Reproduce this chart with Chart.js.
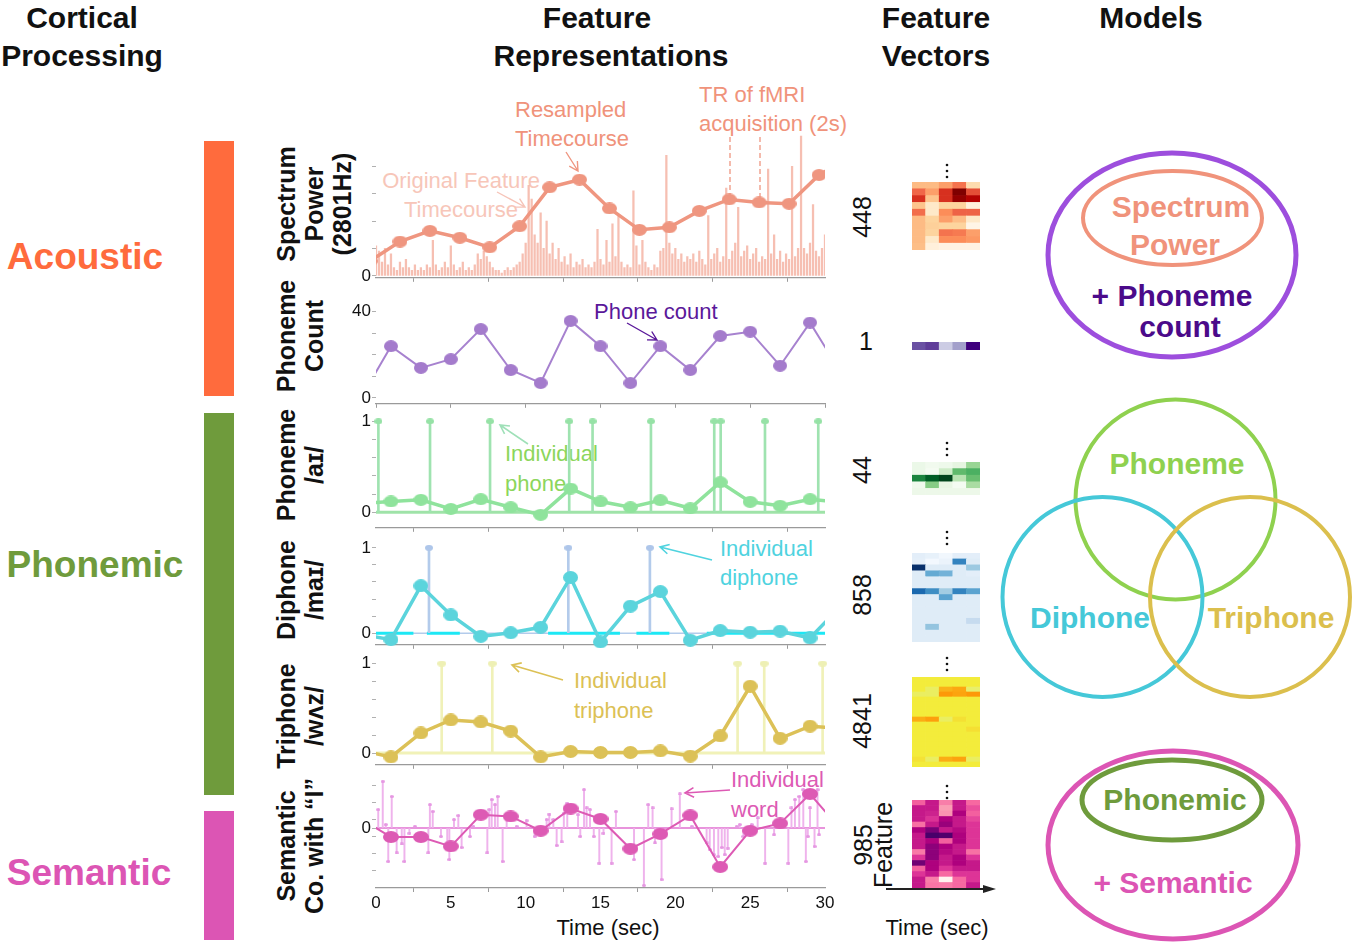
<!DOCTYPE html>
<html><head><meta charset="utf-8"><title>Cortical processing feature models</title>
<script src="https://cdn.jsdelivr.net/npm/chart.js@4.4.1/dist/chart.umd.min.js"></script>
<style>
html,body{margin:0;padding:0;background:#fff;}
body{width:1353px;height:944px;position:relative;overflow:hidden;font-family:"Liberation Sans","DejaVu Sans",Arial,sans-serif;color:#111;}
.t{position:absolute;white-space:nowrap;transform:translate(-50%,-50%);line-height:1;text-align:center;}
.r{position:absolute;white-space:nowrap;transform:translate(-50%,-50%) rotate(-90deg);text-align:center;}
.b{font-weight:bold;}
.cb{position:absolute;left:204px;width:30px;}
canvas{position:absolute;}
svg{position:absolute;left:0;top:0;}
.ann{position:absolute;white-space:nowrap;font-size:22px;line-height:29px;}
</style></head><body>

<!-- column headers -->
<div class="t b" style="left:82px;top:18px;font-size:30px">Cortical</div>
<div class="t b" style="left:82px;top:56px;font-size:30px">Processing</div>
<div class="t b" style="left:597px;top:18px;font-size:30px">Feature</div>
<div class="t b" style="left:611px;top:56px;font-size:30px">Representations</div>
<div class="t b" style="left:936px;top:18px;font-size:30px">Feature</div>
<div class="t b" style="left:936px;top:56px;font-size:30px">Vectors</div>
<div class="t b" style="left:1151px;top:18px;font-size:30px">Models</div>

<!-- cortical processing -->
<div class="t b" style="left:85px;top:256px;font-size:37px;color:#ff6b3d">Acoustic</div>
<div class="t b" style="left:95px;top:564px;font-size:37px;color:#6f9b3c">Phonemic</div>
<div class="t b" style="left:89px;top:872px;font-size:37px;color:#dc55b4">Semantic</div>
<div class="cb" style="top:141px;height:255px;background:#ff6b3d"></div>
<div class="cb" style="top:413px;height:382px;background:#6f9b3c"></div>
<div class="cb" style="top:811px;height:129px;background:#dc55b4"></div>

<!-- row labels -->
<div class="r b" style="left:314px;top:204px;font-size:25px;line-height:28px">Spectrum<br>Power<br>(2801Hz)</div>
<div class="r b" style="left:300px;top:336px;font-size:25px;line-height:28px">Phoneme<br>Count</div>
<div class="r b" style="left:300px;top:465px;font-size:25px;line-height:28px">Phoneme<br>/aɪ/</div>
<div class="r b" style="left:300px;top:590px;font-size:25px;line-height:28px">Diphone<br>/maɪ/</div>
<div class="r b" style="left:300px;top:716px;font-size:25px;line-height:28px">Triphone<br>/wʌz/</div>
<div class="r b" style="left:300px;top:846px;font-size:25px;line-height:28px">Semantic<br>Co. with “I”</div>

<!-- annotations in plots -->
<div class="ann" style="left:515px;top:95px;color:#f0937b">Resampled<br>Timecourse</div>
<div class="ann" style="left:699px;top:80px;color:#f0937b">TR of fMRI<br>acquisition (2s)</div>
<div class="ann" style="left:461px;top:166px;transform:translateX(-50%);text-align:center;color:#f7c6b9">Original Feature<br>Timecourse</div>
<div class="ann" style="left:594px;top:297px;color:#5a189a">Phone count</div>
<div class="ann" style="left:505px;top:439px;line-height:30px;color:#8cd65c">Individual<br>phone</div>
<div class="ann" style="left:720px;top:534px;color:#4fd3df">Individual<br>diphone</div>
<div class="ann" style="left:574px;top:666px;line-height:30px;color:#dcc155">Individual<br>triphone</div>
<div class="ann" style="left:731px;top:765px;line-height:30px;color:#dd5ab4">Individual<br>word</div>
<div class="t" style="left:608px;top:928px;font-size:22px">Time (sec)</div>

<!-- feature vector labels -->
<div class="r" style="left:862px;top:217px;font-size:25px">448</div>
<div class="t" style="left:866px;top:341px;font-size:25px">1</div>
<div class="r" style="left:862px;top:470px;font-size:25px">44</div>
<div class="r" style="left:862px;top:595px;font-size:25px">858</div>
<div class="r" style="left:862px;top:721px;font-size:25px">4841</div>
<div class="r" style="left:873px;top:845px;font-size:25px;line-height:20px">985<br>Feature</div>
<div class="t" style="left:937px;top:928px;font-size:22px">Time (sec)</div>

<!-- model texts -->
<div class="t b" style="left:1181px;top:207px;font-size:30px;color:#f0937b">Spectrum</div>
<div class="t b" style="left:1175px;top:245px;font-size:30px;color:#f0937b">Power</div>
<div class="t b" style="left:1172px;top:296px;font-size:30px;color:#4b0a8a">+ Phoneme</div>
<div class="t b" style="left:1180px;top:327px;font-size:30px;color:#4b0a8a">count</div>
<div class="t b" style="left:1177px;top:464px;font-size:30px;color:#8fd14f">Phoneme</div>
<div class="t b" style="left:1090px;top:618px;font-size:30px;color:#45c8d8">Diphone</div>
<div class="t b" style="left:1271px;top:618px;font-size:30px;color:#dbbf4d">Triphone</div>
<div class="t b" style="left:1175px;top:800px;font-size:30px;color:#6e9b3c">Phonemic</div>
<div class="t b" style="left:1173px;top:883px;font-size:30px;color:#dc55b4">+ Semantic</div>

<script>
// ---------------- DATA ----------------
const timeTicks = [0, 5, 10, 15, 20, 25, 30];
// TR-resampled sample times (s); outer points continue the line past the axis edges
const specTimes = [-0.4, 1.6, 3.6, 5.6, 7.6, 9.6, 11.6, 13.6, 15.6, 17.6, 19.6, 21.6, 23.6, 25.6, 27.6, 29.6, 31.6];
const trTimes   = [-1, 1, 3, 5, 7, 9, 11, 13, 15, 17, 19, 21, 23, 25, 27, 29, 31];

// Spectrum power (2801 Hz)
const spectrumResampled = [0.54, 1.25, 1.64, 1.39, 1.04, 1.81, 3.23, 3.51, 2.46, 1.68, 1.77, 2.37, 2.79, 2.68, 2.63, 3.68, 4.3];
const spectrumStep = 0.2; // original feature sampled every 0.2 s
const spectrumOriginal = [
  1.1, 0.9, 0.5, 1.0, 0.4, 0.8, 0.3, 0.2, 0.5, 0.3, 0.6,
  0.3, 0.2, 0.4, 0.2, 0.3, 0.2, 0.4, 0.3, 1.3, 0.4,
  0.2, 0.3, 0.5, 0.3, 1.1, 0.4, 0.2, 0.3, 0.5, 0.2,
  0.3, 0.2, 0.4, 0.8, 0.6, 0.9, 0.7, 0.5, 0.3, 0.2,
  0.2, 0.1, 0.2, 0.3, 0.2, 0.3, 0.4, 0.5, 0.8, 1.2,
  3.3, 2.8, 1.5, 1.2, 2.3, 1.0, 2.0, 0.8, 1.2, 0.6,
  1.0, 0.5, 0.7, 0.4, 0.8, 0.3, 0.5, 0.4, 0.6, 0.3,
  0.4, 0.3, 0.5, 1.7, 0.6, 0.4, 1.3, 0.5, 1.9, 0.7,
  2.2, 0.5, 0.3, 0.4, 0.3, 3.1, 1.1, 0.4, 1.3, 0.5,
  0.3, 0.2, 0.4, 0.3, 0.9, 1.0, 4.4, 1.2, 0.8, 1.0,
  0.6, 0.8, 0.5, 0.7, 0.6, 0.8, 0.5, 0.9, 0.6, 0.4,
  2.2, 0.6, 0.8, 1.0, 0.5, 0.7, 3.2, 0.6, 0.9, 1.2,
  2.5, 0.7, 0.9, 1.1, 0.6, 0.8, 1.0, 0.5, 0.7, 0.6,
  3.9, 0.8, 1.5, 0.6, 0.9, 0.5, 0.8, 0.6, 4.0, 0.7,
  1.0, 5.1, 1.0, 0.8, 1.2, 2.6, 0.9, 0.7, 1.0, 1.5
];

// Phoneme count
const phoneCount = [0, 23.9, 13.9, 17.9, 31.8, 12.9, 6.9, 35.6, 23.9, 6.9, 23.9, 12.9, 28.6, 30.6, 14.9, 34.8, 12.4];

// Phoneme /aɪ/
const phonemeResampled = [0.096, 0.118, 0.136, 0.036, 0.143, 0.054, -0.029, 0.26, 0.118, 0.054, 0.132, 0.043, 0.33, 0.114, 0.071, 0.143, 0.107];
const phoneOnsets = [0.16, 3.61, 7.62, 12.91, 14.47, 18.37, 22.6, 23.03, 25.99, 29.55];

// Diphone /maɪ/
const diphoneResampled = [-0.016, -0.076, 0.555, 0.213, -0.038, 0.004, 0.068, 0.653, -0.103, 0.316, 0.487, -0.083, 0.03, 0.011, 0.023, -0.057, 0.307];
const diphoneOnsets = [3.54, 12.85, 18.3];
const diphoneZeroRuns = [[0, 2.5], [3.4, 5.6], [11.5, 16.3], [17.4, 19.6], [22.1, 30]];

// Triphone /wʌz/
const triphoneResampled = [0.029, -0.043, 0.225, 0.37, 0.348, 0.246, -0.043, 0.018, 0.007, 0.007, 0.025, -0.033, 0.192, 0.747, 0.166, 0.301, 0.279];
const triphoneOnsets = [4.39, 7.77, 24.16, 25.94, 29.84];

// Semantic co-occurrence with "I"
const semanticResampled = [0.053, -0.053, -0.053, -0.108, 0.078, 0.068, -0.016, 0.114, 0.053, -0.122, -0.035, 0.074, -0.229, -0.016, 0.027, 0.2, -0.004];
const wordTimes = [0.15, 0.45, 0.65, 0.82, 1.05, 1.38, 1.72, 1.9, 2.23, 2.6, 3.5, 3.6, 3.79, 4.34, 4.76, 4.9, 5.21, 5.5, 5.72, 6.28,
  6.5, 7.44, 7.57, 7.73, 7.95, 8.13, 8.46, 8.73, 9.4, 10.06, 10.6, 11.4, 11.58, 11.85, 12.07, 12.4, 12.55, 12.78, 13.5, 13.65,
  13.9, 14.07, 14.3, 14.55, 14.92, 15.2, 15.74, 16.03, 17.24, 17.9, 18.19, 18.48, 18.64, 19.08, 19.75, 20.3, 21.1, 22.09, 22.3, 22.58,
  22.87, 23.1, 23.3, 23.5, 24.1, 24.3, 24.55, 24.75, 25.1, 25.5, 26.0, 26.6, 27.1, 27.55, 27.76, 27.99, 28.28, 28.55, 28.72, 28.85,
  29.0, 29.3, 29.5, 29.6];
const wordValues = [0.108, 0.275, 0.02, -0.196, 0.186, -0.147, -0.094, -0.196, -0.03, 0.01, -0.147, 0.137, 0.098, -0.049, -0.118, -0.186, 0.049, 0.073, -0.114, -0.049,
  0.01, -0.147, 0.108, 0.167, 0.137, 0.186, -0.196, 0.059, 0.01, 0.043, -0.049, 0.049, 0.082, 0.049, -0.102, -0.082, 0.088, 0.147, 0.078, -0.049,
  0.225, 0.118, 0.108, -0.049, -0.206, -0.03, -0.206, 0.098, -0.186, -0.337, 0.137, 0.118, -0.088, -0.304, 0.112, 0.2, 0.01, -0.088, -0.127, -0.157,
  -0.167, -0.114, -0.157, -0.118, 0.01, 0.02, -0.049, -0.03, 0.02, 0.059, -0.206, -0.04, 0.04, -0.206, 0.118, 0.167, 0.186, 0.225, -0.196, -0.049,
  0.118, -0.108, 0.225, -0.04];

// Feature-vector heatmaps (rows top→bottom, 5 TR columns), values 0..1
const heatCols = ['TR1', 'TR2', 'TR3', 'TR4', 'TR5'];
const spectrumVec = [
  [0.375, 0.375, 0.45, 0.58, 0.2],
  [0.62, 0.45, 0.75, 1.0, 0.68],
  [0.75, 0.33, 0.75, 0.95, 0.87],
  [0.33, 0.12, 0.25, 0.25, 0.06],
  [0.6, 0.12, 0.5, 0.63, 0.63],
  [0.375, 0.25, 0.45, 0.36, 0.12],
  [0.375, 0.27, 0.25, 0.25, 0.02],
  [0.375, 0.25, 0.58, 0.56, 0.45],
  [0.375, 0.12, 0.5, 0.5, 0.47],
  [0.36, 0.06, 0.03, 0.03, 0.03]
];
const phoneCountVec = [[0.75, 0.81, 0.31, 0.48, 1.0]];
const phonemeVec = [
  [0.08, 0.04, 0.06, 0.12, 0.4],
  [0.08, 0.02, 0.22, 0.55, 0.6],
  [0.78, 0.92, 1.0, 0.3, 0.53],
  [0.05, 0.45, 0.1, 0.02, 0.35],
  [0.07, 0.07, 0.07, 0.07, 0.07]
];
const diphoneVec = [
  [0.1, 0.08, 0.03, 0.1, 0.1],
  [0.09, 0.02, 0.06, 0.68, 0.12],
  [1.0, 0.12, 0.12, 0.12, 0.38],
  [0.12, 0.52, 0.48, 0.12, 0.1],
  [0.12, 0.12, 0.12, 0.12, 0.12],
  [0.12, 0.12, 0.12, 0.12, 0.12],
  [0.78, 0.64, 0.36, 0.68, 0.55],
  [0.12, 0.12, 0.55, 0.12, 0.12],
  [0.12, 0.12, 0.12, 0.12, 0.12],
  [0.12, 0.12, 0.12, 0.12, 0.12],
  [0.12, 0.12, 0.12, 0.12, 0.12],
  [0.12, 0.12, 0.12, 0.12, 0.25],
  [0.12, 0.4, 0.12, 0.12, 0.12],
  [0.12, 0.12, 0.12, 0.12, 0.12],
  [0.12, 0.12, 0.12, 0.12, 0.12]
];
const triphoneVec = [
  [0.5, 0.5, 0.5, 0.5, 0.5],
  [0.5, 0.5, 0.5, 0.5, 0.5],
  [0.5, 0.3, 0.8, 0.86, 0.25],
  [0.3, 0.3, 0.93, 0.88, 0.93],
  [0.5, 0.5, 0.5, 0.5, 0.5],
  [0.5, 0.5, 0.5, 0.5, 0.5],
  [0.5, 0.5, 0.5, 0.5, 0.5],
  [0.5, 0.5, 0.5, 0.5, 0.5],
  [0.83, 0.9, 0.3, 0.56, 0.5],
  [0.5, 0.5, 0.5, 0.5, 0.5],
  [0.5, 0.5, 0.5, 0.5, 0.57],
  [0.5, 0.5, 0.5, 0.5, 0.5],
  [0.5, 0.5, 0.5, 0.5, 0.5],
  [0.5, 0.5, 0.5, 0.5, 0.5],
  [0.5, 0.5, 0.5, 0.5, 0.5],
  [0.5, 0.5, 0.5, 0.5, 0.5],
  [0.55, 0.3, 0.83, 0.88, 0.3],
  [0.5, 0.5, 0.5, 0.5, 0.5]
];
const semanticVec = [
  [0.52, 0.69, 0.45, 0.69, 0.5],
  [0.69, 0.69, 0.38, 0.69, 0.56],
  [0.69, 0.67, 0.4, 0.75, 0.52],
  [0.69, 0.63, 0.75, 0.69, 0.58],
  [0.48, 0.69, 0.8, 0.69, 0.625],
  [0.75, 0.875, 0.69, 0.73, 0.625],
  [0.69, 1.0, 0.98, 0.75, 0.625],
  [0.69, 0.75, 0.52, 0.75, 0.625],
  [0.69, 0.83, 0.75, 0.69, 0.625],
  [0.46, 0.83, 0.73, 0.69, 0.48],
  [0.625, 0.83, 0.69, 0.75, 0.625],
  [0.9, 0.75, 0.69, 0.75, 0.69],
  [0.52, 0.75, 0.625, 0.69, 0.69],
  [0.625, 0.69, 0.5, 0.625, 0.625],
  [0.69, 0.45, 0.02, 0.5, 0.625],
  [0.69, 0.47, 0.46, 0.5, 0.69]
];

// ---------------- HELPERS ----------------
Chart.defaults.font.family = '"Liberation Sans", "DejaVu Sans", Arial, sans-serif';
const pts = (xs, ys) => xs.map((x, i) => ({ x: x, y: ys[i] }));

function ellipse(color, w, h) {
  const c = document.createElement('canvas');
  c.width = w; c.height = h;
  const g = c.getContext('2d');
  g.fillStyle = color;
  g.beginPath(); g.ellipse(w / 2, h / 2, w / 2, h / 2, 0, 0, Math.PI * 2); g.fill();
  return c;
}

function resampledLine(xs, ys, color, width, pw, ph, pcolor) {
  return { type: 'line', data: pts(xs, ys), borderColor: color, borderWidth: width, tension: 0,
    pointStyle: ellipse(pcolor || color, pw, ph), pointRadius: 7,
    clip: { left: 0, right: 0, top: 14, bottom: 10 }, order: 0 };
}
function stems(xs, ys, color, thick, order) {
  return { type: 'bar', data: pts(xs, ys), backgroundColor: color, borderWidth: 0,
    barThickness: thick, grouped: false, order: order || 2 };
}
function tips(xs, ys, color, w, h) {
  return { type: 'line', data: pts(xs, ys), showLine: false, pointStyle: ellipse(color, w, h),
    pointRadius: 3, clip: { left: 2, right: 6, top: 10, bottom: 10 }, order: 1 };
}
function runsLine(runs, color, width, order) {
  const d = [];
  runs.forEach(r => { d.push({ x: r[0], y: 0 }, { x: r[1], y: 0 }, { x: r[1] + 0.0001, y: null }); });
  return { type: 'line', data: d, borderColor: color, borderWidth: width, pointRadius: 0,
    spanGaps: false, tension: 0, order: order || 3 };
}

const PAD_TOP = 14;
function panel(spec) {
  const axisH = spec.bottomAxis ? 52 : 8;
  const h = PAD_TOP + (spec.bottom - spec.top) + axisH;
  const c = document.createElement('canvas');
  c.width = 545; c.height = h;
  c.style.left = '300px'; c.style.top = (spec.top - PAD_TOP) + 'px';
  c.style.width = '545px'; c.style.height = h + 'px';
  document.body.appendChild(c);
  new Chart(c, {
    type: 'line',
    data: { datasets: spec.datasets },
    options: {
      responsive: false, animation: false, events: [],
      layout: { padding: { top: PAD_TOP, right: 20, left: 0, bottom: 0 } },
      plugins: { legend: { display: false }, tooltip: { enabled: false } },
      scales: {
        x: {
          type: 'linear', min: 0, max: 30, offset: false,
          afterBuildTicks: s => { s.ticks = timeTicks.map(v => ({ value: v })); },
          grid: { display: true, drawOnChartArea: false, drawTicks: true, tickLength: 4, color: '#9a9a9a' },
          border: { display: true, color: '#9a9a9a', width: 1.2 },
          ticks: { display: !!spec.bottomAxis, font: { size: 17 }, color: '#111', padding: 1, maxRotation: 0, autoSkip: false },
          afterFit: s => { s.height = axisH; }
        },
        y: {
          type: 'linear', min: spec.ymin, max: spec.ymax,
          afterBuildTicks: s => { s.ticks = spec.yticks.map(v => ({ value: v })); },
          grid: { display: true, drawOnChartArea: false, drawTicks: true, tickLength: 4, color: '#b0b0b0' },
          border: { display: false },
          ticks: { font: { size: 17 }, color: '#111', padding: 1, autoSkip: false,
            callback: v => (spec.ylabels.indexOf(v) >= 0 ? String(v) : '') },
          afterFit: s => { s.width = 76; }
        }
      }
    }
  });
}

// ---------------- PANELS ----------------
panel({ top: 133, bottom: 281, ymin: -0.0714, ymax: 5.214, yticks: [0, 1, 2, 3, 4], ylabels: [0],
  datasets: [
    resampledLine(specTimes, spectrumResampled, '#ef9680', 3.5, 15, 12),
    { type: 'bar', data: spectrumOriginal.map((v, i) => ({ x: i * spectrumStep, y: v })),
      backgroundColor: 'rgba(245,180,164,0.85)', borderWidth: 0, barThickness: 1.6, grouped: false, order: 3 }
  ] });

panel({ top: 300, bottom: 407, ymin: -2.688, ymax: 45.24, yticks: [0, 10, 20, 30, 40], ylabels: [0, 40],
  datasets: [ resampledLine(trTimes, phoneCount, '#a782cf', 2, 14, 12, '#a47bcc') ] });

panel({ top: 407, bottom: 531, ymin: -0.1715, ymax: 1.1576, yticks: [0, 0.2, 0.4, 0.6, 0.8, 1], ylabels: [0, 1],
  datasets: [
    resampledLine(trTimes, phonemeResampled, '#8fe39c', 3.5, 15, 12),
    tips(phoneOnsets, phoneOnsets.map(() => 1), '#96e2a6', 8, 6),
    stems(phoneOnsets, phoneOnsets.map(() => 1), '#9fe3b0', 2),
    runsLine([[0, 30]], '#9fe3a8', 3, 3)
  ] });

panel({ top: 532, bottom: 648, ymin: -0.1368, ymax: 1.1859, yticks: [0, 0.2, 0.4, 0.6, 0.8, 1], ylabels: [0, 1],
  datasets: [
    resampledLine(trTimes, diphoneResampled, '#5bd4dc', 3.5, 15, 13),
    tips(diphoneOnsets, diphoneOnsets.map(() => 1), '#aec6ea', 8, 6),
    stems(diphoneOnsets, diphoneOnsets.map(() => 1), '#b3cbeb', 2),
    runsLine(diphoneZeroRuns, '#1ce8f5', 3, 3),
    runsLine([[0, 30]], '#b3cbeb', 1.5, 4)
  ] });

panel({ top: 648, bottom: 768, ymin: -0.1304, ymax: 1.1739, yticks: [0, 0.2, 0.4, 0.6, 0.8, 1], ylabels: [0, 1],
  datasets: [
    resampledLine(trTimes, triphoneResampled, '#dcc157', 3.5, 15, 13),
    tips(triphoneOnsets, triphoneOnsets.map(() => 1), '#eef0b4', 9, 6),
    stems(triphoneOnsets, triphoneOnsets.map(() => 1), '#f0f1b8', 2),
    runsLine([[0, 30]], '#f1f2b8', 3, 3)
  ] });

panel({ top: 768, bottom: 888, ymin: -0.3529, ymax: 0.3529, yticks: [-0.25, -0.15, -0.05, 0, 0.05, 0.15, 0.25], ylabels: [0],
  bottomAxis: true,
  datasets: [
    resampledLine(trTimes, semanticResampled, '#dd5ab4', 2, 16, 12),
    tips(wordTimes, wordValues, '#e596e2', 4, 3),
    stems(wordTimes, wordValues, '#efb3ec', 1.3),
    runsLine([[0, 30]], '#e070d0', 1.5, 3)
  ] });

// ---------------- HEATMAPS ----------------
function hex(h) { return [parseInt(h.substr(1, 2), 16), parseInt(h.substr(3, 2), 16), parseInt(h.substr(5, 2), 16)]; }
function cmap(stops) {
  return v => {
    v = Math.max(0, Math.min(1, v));
    const n = stops.length - 1, f = v * n, i = Math.min(n - 1, Math.floor(f)), t = f - i;
    const a = hex(stops[i]), b = hex(stops[i + 1]);
    return 'rgb(' + a.map((c, k) => Math.round(c + (b[k] - c) * t)).join(',') + ')';
  };
}
const OrRd = cmap(['#fff7ec', '#fee8c8', '#fdd49e', '#fdbb84', '#fc8d59', '#ef6548', '#d7301f', '#b30000', '#7f0000']);
const Purples = cmap(['#fcfbfd', '#efedf5', '#dadaeb', '#bcbddc', '#9e9ac8', '#807dba', '#6a51a3', '#54278f', '#3f007d']);
const Greens = cmap(['#f7fcf5', '#e5f5e0', '#c7e9c0', '#a1d99b', '#74c476', '#41ab5d', '#238b45', '#006d2c', '#00441b']);
const Blues = cmap(['#f7fbff', '#deebf7', '#c6dbef', '#9ecae1', '#6baed6', '#4292c6', '#2171b5', '#08519c', '#08306b']);
const YlOr = cmap(['#dcf29a', '#f3ec3b', '#ff8c00']);
const RdPu = cmap(['#fff7f3', '#fde0dd', '#fcc5c0', '#fa9fb5', '#f768a1', '#dd3497', '#ae017e', '#7a0177', '#49006a']);

function heat(left, top, w, h, rows, cm) {
  const c = document.createElement('canvas');
  c.width = w; c.height = h;
  c.style.left = left + 'px'; c.style.top = top + 'px';
  c.style.width = w + 'px'; c.style.height = h + 'px';
  document.body.appendChild(c);
  const datasets = rows.slice().reverse().map(r => ({
    data: r.map(() => 1), backgroundColor: r.map(v => cm(v)), borderWidth: 0,
    barPercentage: 1, categoryPercentage: 1, stack: 'cells'
  }));
  new Chart(c, {
    type: 'bar',
    data: { labels: heatCols, datasets: datasets },
    options: {
      responsive: false, animation: false, events: [],
      layout: { padding: 0 },
      plugins: { legend: { display: false }, tooltip: { enabled: false } },
      scales: { x: { display: false, stacked: true }, y: { display: false, stacked: true, min: 0, max: rows.length } }
    }
  });
}
heat(912, 182, 68, 68, spectrumVec, OrRd);
heat(912, 342, 68, 8, phoneCountVec, Purples);
heat(912, 462, 68, 33, phonemeVec, Greens);
heat(912, 553, 68, 89, diphoneVec, Blues);
heat(912, 677, 68, 90, triphoneVec, YlOr);
heat(912, 800, 68, 88, semanticVec, RdPu);

// ---------------- SVG DECORATIONS ----------------
function arrow(x1, y1, x2, y2, color, w) {
  const a = Math.atan2(y2 - y1, x2 - x1), L = 10, s = 0.5;
  const p1 = [x2 - L * Math.cos(a - s), y2 - L * Math.sin(a - s)];
  const p2 = [x2 - L * Math.cos(a + s), y2 - L * Math.sin(a + s)];
  return '<path d="M' + x1 + ' ' + y1 + ' L' + x2 + ' ' + y2 + ' M' + p1[0] + ' ' + p1[1] + ' L' + x2 + ' ' + y2 + ' L' + p2[0] + ' ' + p2[1] +
    '" stroke="' + color + '" stroke-width="' + (w || 1.4) + '" fill="none"/>';
}
let svg = '<svg width="1353" height="944" xmlns="http://www.w3.org/2000/svg">';
svg += arrow(566, 152, 578, 171, '#ef9680');
svg += arrow(497, 192, 525, 207, '#f6c4b8');
svg += arrow(627, 323, 657, 340, '#5a189a');
svg += arrow(528, 444, 500, 425, '#9fe0b8', 1.6);
svg += arrow(712, 560, 660, 547, '#4fd3df', 1.6);
svg += arrow(563, 680, 512, 665, '#dcc155', 1.6);
svg += arrow(730, 790, 685, 793, '#dd5ab4', 1.6);
svg += '<line x1="730" y1="137" x2="730" y2="197" stroke="#ef9680" stroke-width="1.3" stroke-dasharray="5,3"/>';
svg += '<line x1="760" y1="137" x2="760" y2="201" stroke="#ef9680" stroke-width="1.3" stroke-dasharray="5,3"/>';
// time arrow under feature vectors
svg += '<line x1="886" y1="889" x2="985" y2="889" stroke="#222" stroke-width="2"/>';
svg += '<path d="M996 889 L983 885 L983 893 Z" fill="#222"/>';
// vertical dots above feature vectors
[[165, 171, 177], [443, 449, 455], [532, 538, 544], [658, 664, 670], [786, 792, 798]].forEach(ys => {
  ys.forEach(y => { svg += '<circle cx="947" cy="' + y + '" r="1.3" fill="#111"/>'; });
});
// model diagrams
svg += '<ellipse cx="1172" cy="255" rx="124" ry="102" fill="none" stroke="#9d4edd" stroke-width="5"/>';
svg += '<ellipse cx="1172.5" cy="218" rx="89.5" ry="47" fill="none" stroke="#f0937b" stroke-width="4"/>';
svg += '<circle cx="1175.5" cy="499.5" r="100" fill="none" stroke="#8fd14f" stroke-width="4"/>';
svg += '<circle cx="1102.5" cy="597" r="100" fill="none" stroke="#45c8d8" stroke-width="4"/>';
svg += '<circle cx="1250" cy="597" r="100" fill="none" stroke="#dbbf4d" stroke-width="4"/>';
svg += '<ellipse cx="1173" cy="845" rx="125" ry="94" fill="none" stroke="#dc55b4" stroke-width="5"/>';
svg += '<ellipse cx="1172" cy="800" rx="90" ry="40" fill="none" stroke="#6e9b3c" stroke-width="5"/>';
svg += '</svg>';
const holder = document.createElement('div');
holder.innerHTML = svg;
document.body.appendChild(holder.firstChild);
</script>
</body></html>
